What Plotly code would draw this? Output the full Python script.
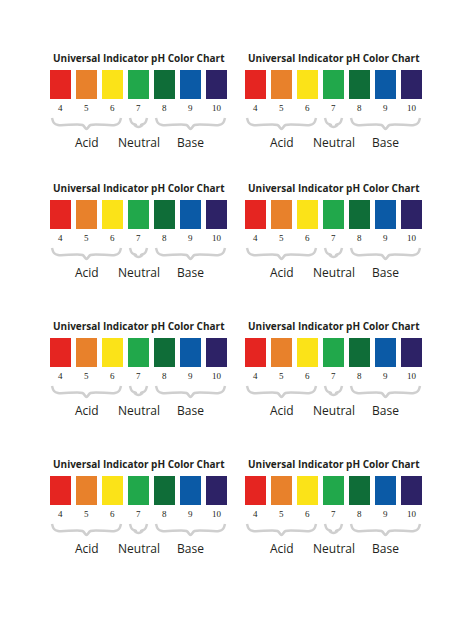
import plotly.graph_objects as go

ph_values = [4, 5, 6, 7, 8, 9, 10]
colors = ["#e52521", "#e8812b", "#fbe318", "#21a84b", "#0f6d38", "#0b5aa6", "#2d2266"]
group_labels = ["Acid", "Neutral", "Base"]
group_ranges = [(0, 2), (3, 3), (4, 6)]
title_text = "Universal Indicator pH Color Chart"

panel_x = [42, 237]
row_top = [62, 192, 330, 468]
step, w, h = 26, 21, 29

fig = go.Figure()
ann = []

def brace(x0, x1, y, depth):
    xm = (x0 + x1) / 2
    xs = [x0, x0 + 2, x0 + 6, xm - 4, xm, xm + 4, x1 - 6, x1 - 2, x1]
    ys = [y - 4, y + 1, y + 3, y + 3, y + 3 + depth, y + 3, y + 3, y + 1, y - 4]
    return xs, ys

for top in row_top:
    for px in panel_x:
        xs = [px + i * step + w / 2 for i in range(len(ph_values))]
        fig.add_trace(go.Bar(x=xs, y=[h] * len(xs), base=[top] * len(xs), width=w,
                             marker=dict(color=colors, line=dict(width=0)),
                             showlegend=False, hoverinfo="skip"))
        ann.append(dict(x=px + 3 * step + w / 2, y=top - 12, text="<b>" + title_text + "</b>",
                        showarrow=False, font=dict(size=10, color="#231f20", family="Open Sans")))
        for xi, v in zip(xs, ph_values):
            ann.append(dict(x=xi, y=top + 38, text=str(v), showarrow=False,
                            font=dict(size=9, color="#231f20", family="Liberation Serif")))
        for lab, (a, b) in zip(group_labels, group_ranges):
            x0 = px + a * step + 2
            x1 = px + b * step + w - 2
            bx, by = brace(x0, x1, top + 52, 4 if a != b else 2)
            fig.add_trace(go.Scatter(x=bx, y=by, mode="lines", line=dict(color="#cfcfcf", width=2.5, shape="spline"),
                                     showlegend=False, hoverinfo="skip"))
            ann.append(dict(x=(x0 + x1) / 2, y=top + 72, text=lab, showarrow=False,
                            font=dict(size=12, color="#231f20", family="Open Sans")))

fig.update_layout(width=474, height=632, margin=dict(l=0, r=0, t=0, b=0),
                  plot_bgcolor="white", paper_bgcolor="white", annotations=ann, barmode="overlay",
                  xaxis=dict(range=[0, 474], visible=False, fixedrange=True),
                  yaxis=dict(range=[632, 0], visible=False, fixedrange=True))
fig.write_html("out.html")
